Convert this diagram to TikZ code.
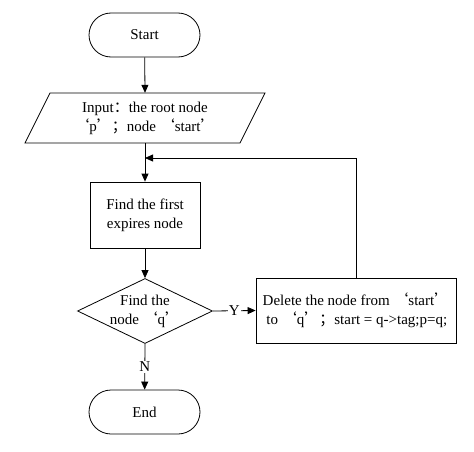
\documentclass[tikz,border=0pt]{standalone}
\usepackage{fontspec}
\setmainfont{Liberation Serif}
\newfontfamily\cjk[RawFeature=+fwid]{Noto Sans CJK SC}
\usetikzlibrary{shapes.geometric,arrows.meta}
\newcommand{\myLq}{{\cjk ‘}}
\newcommand{\myRq}{{\cjk ’}}
\begin{document}
\begin{tikzpicture}[x=1pt,y=-1pt,
  every node/.style={font=\fontsize{15}{20}\selectfont},
  line/.style={line width=0.8pt},
  arr/.style={line, -{Triangle[length=8pt,width=7pt]}},
  term/.style={draw, line width=0.8pt, rectangle, rounded corners=22pt, minimum width=111pt, minimum height=44pt},
  proc/.style={draw, line width=0.8pt, rectangle, inner sep=0pt},
  lbl/.style={fill=white, inner sep=1pt}]
\useasboundingbox (0,0) rectangle (474,452);
\node[term] (start) at (144.5,35) {Start};
\node[minimum width=190pt, minimum height=50pt, inner sep=0pt, align=center] (in) at (145,118) {Input{\cjk ：}the root node\\[-1pt]\myLq p\myRq{\cjk ；}node \myLq start\myRq};
\draw[line] (50,93) -- (265,93) -- (240,143) -- (25,143) -- cycle;
\node[proc, minimum width=110pt, minimum height=66pt, align=center] (find) at (145,215) {Find the first\\[-1pt]expires node};
\node[draw, line width=0.8pt, diamond, minimum width=135pt, minimum height=65pt, inner sep=0pt] (dia) at (145,311) {};
\node[align=center] at (145,311) {Find the\\[-1pt]node \myLq q\myRq};
\node[proc, minimum width=200pt, minimum height=65pt, align=left] (del) at (356,310.5) {Delete the node from \myLq start\myRq\\[-1pt]\ to \myLq q\myRq{\cjk ；}start = q->tag;p=q;};
\node[term] (end) at (144.5,412) {End};
\coordinate (m) at (145,158);
\draw[arr] (start) -- (in.north);
\draw[arr] (in.south) -- (find);
\draw[arr] (find) -- (dia);
\draw[arr] (dia.east) -- node[lbl, pos=0.5] {Y} (del.west);
\draw[arr] (dia.south) -- node[lbl, pos=0.5] {N} (end);
\draw[arr] (del.north) |- (m);
\end{tikzpicture}
\end{document}
